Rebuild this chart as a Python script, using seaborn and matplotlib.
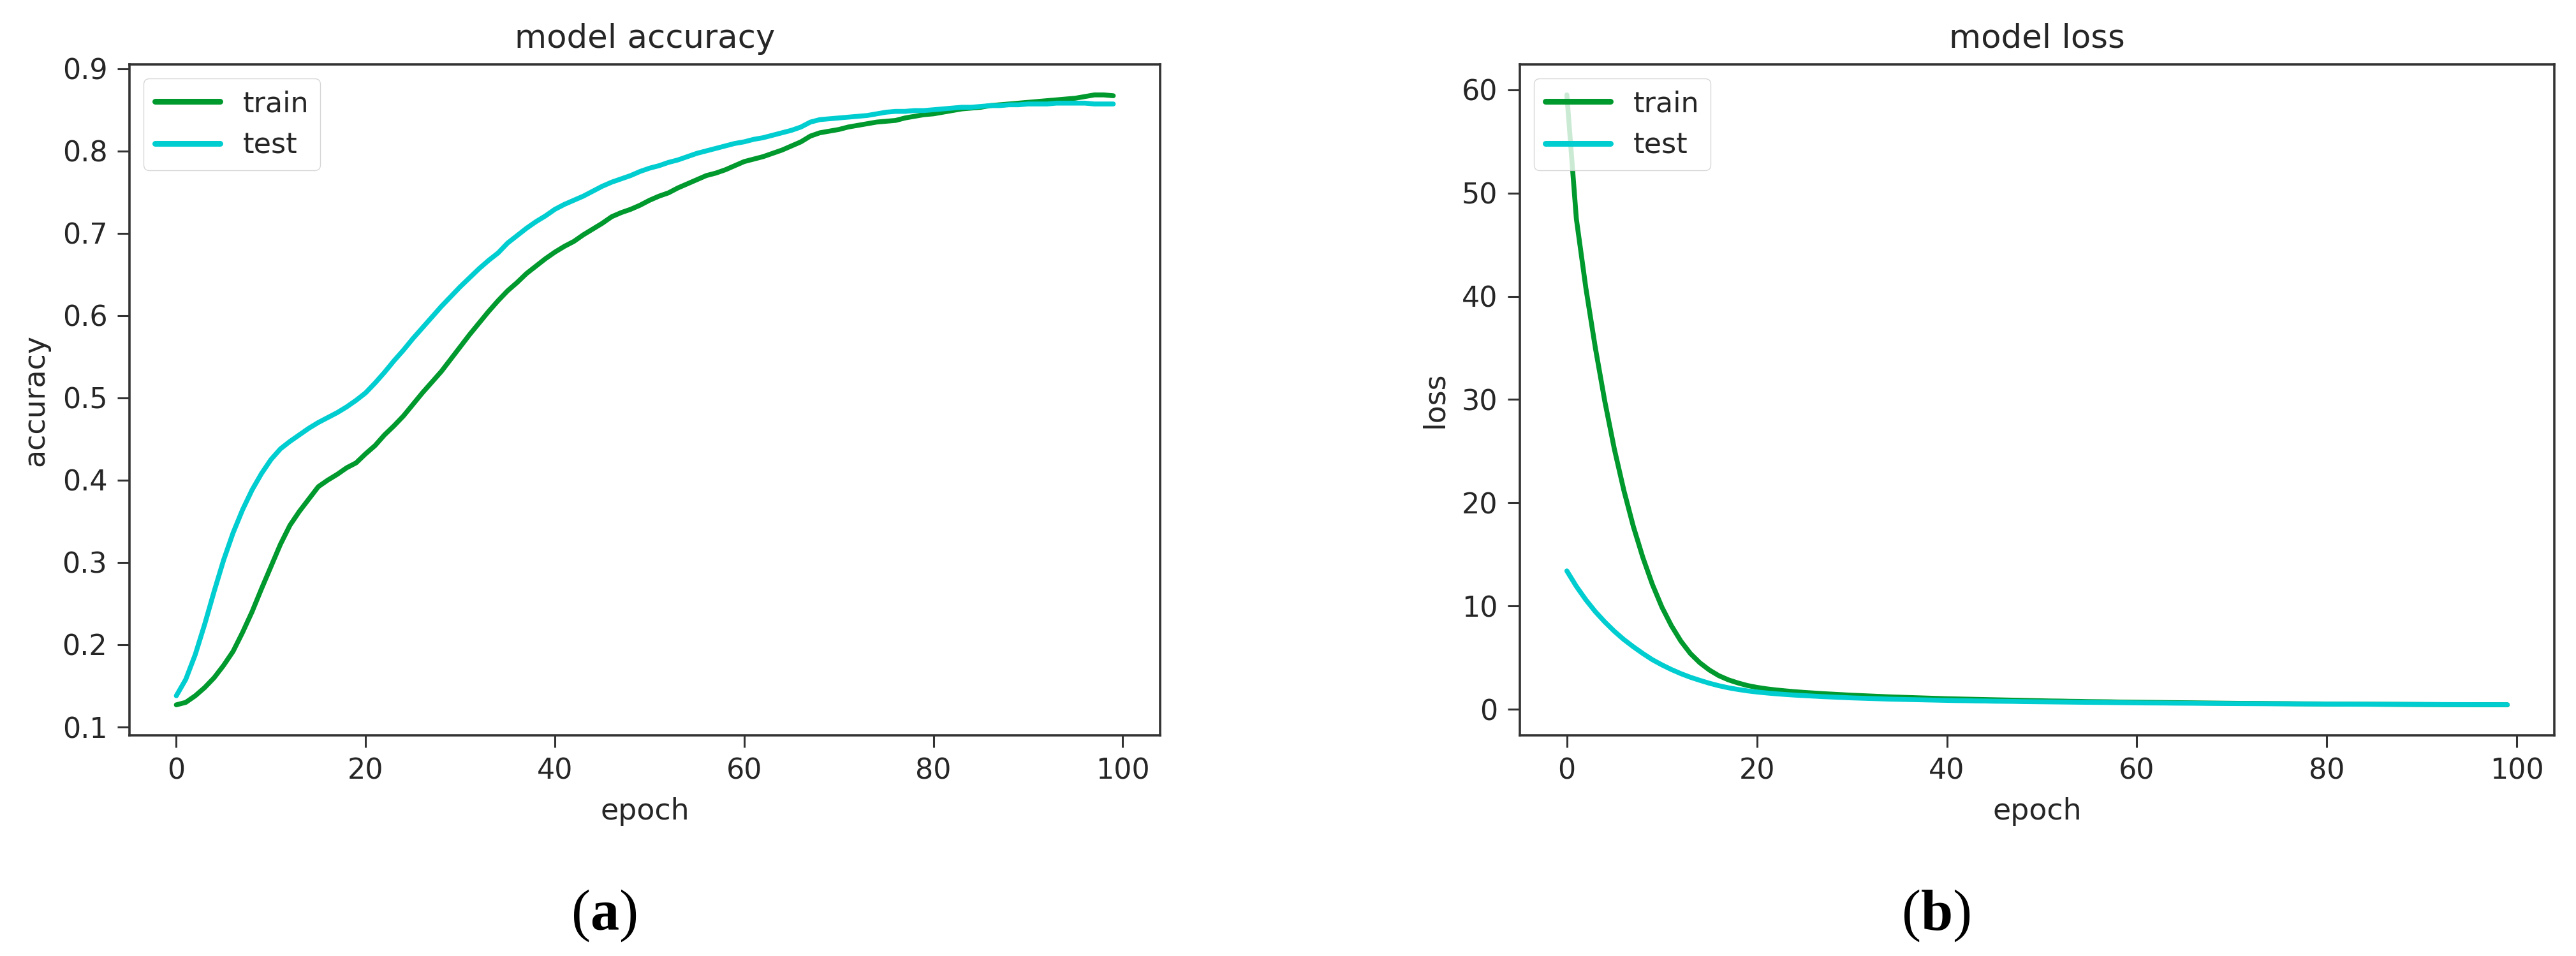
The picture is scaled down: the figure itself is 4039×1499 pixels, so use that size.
import numpy as np
import pandas as pd
import matplotlib
matplotlib.use("Agg")
import matplotlib.pyplot as plt
import seaborn as sns

# ---------------- data ----------------
epochs = list(range(100))

train_acc = [0.127, 0.130, 0.138, 0.148, 0.160, 0.175, 0.192, 0.215, 0.240, 0.268,
             0.295, 0.322, 0.345, 0.362, 0.377, 0.392, 0.400, 0.407, 0.415, 0.421,
             0.432, 0.442, 0.455, 0.466, 0.478, 0.492, 0.506, 0.519, 0.532, 0.547,
             0.562, 0.577, 0.591, 0.605, 0.618, 0.630, 0.640, 0.651, 0.660, 0.669,
             0.677, 0.684, 0.690, 0.698, 0.705, 0.712, 0.720, 0.725, 0.729, 0.734,
             0.740, 0.745, 0.749, 0.755, 0.760, 0.765, 0.770, 0.773, 0.777, 0.782,
             0.787, 0.790, 0.793, 0.797, 0.801, 0.806, 0.811, 0.818, 0.822, 0.824,
             0.826, 0.829, 0.831, 0.833, 0.835, 0.836, 0.837, 0.840, 0.842, 0.844,
             0.845, 0.847, 0.849, 0.851, 0.852, 0.853, 0.855, 0.856, 0.857, 0.858,
             0.859, 0.860, 0.861, 0.862, 0.863, 0.864, 0.866, 0.868, 0.868, 0.867]

test_acc = [0.138, 0.158, 0.188, 0.225, 0.265, 0.303, 0.336, 0.364, 0.388, 0.408,
            0.425, 0.438, 0.447, 0.455, 0.463, 0.470, 0.476, 0.482, 0.489, 0.497,
            0.506, 0.518, 0.531, 0.545, 0.558, 0.572, 0.585, 0.598, 0.611, 0.623,
            0.635, 0.646, 0.657, 0.667, 0.676, 0.688, 0.697, 0.706, 0.714, 0.721,
            0.729, 0.735, 0.740, 0.745, 0.751, 0.757, 0.762, 0.766, 0.770, 0.775,
            0.779, 0.782, 0.786, 0.789, 0.793, 0.797, 0.800, 0.803, 0.806, 0.809,
            0.811, 0.814, 0.816, 0.819, 0.822, 0.825, 0.829, 0.835, 0.838, 0.839,
            0.840, 0.841, 0.842, 0.843, 0.845, 0.847, 0.848, 0.848, 0.849, 0.849,
            0.850, 0.851, 0.852, 0.853, 0.853, 0.854, 0.855, 0.855, 0.856, 0.856,
            0.857, 0.857, 0.857, 0.858, 0.858, 0.858, 0.858, 0.857, 0.857, 0.857]

train_loss = [59.5, 47.5, 40.8, 35.0, 29.8, 25.2, 21.2, 17.7, 14.7, 12.1,
              9.9, 8.1, 6.6, 5.4, 4.5, 3.8, 3.25, 2.85, 2.55, 2.3,
              2.12, 1.98, 1.87, 1.78, 1.70, 1.63, 1.57, 1.51, 1.46, 1.41,
              1.36, 1.32, 1.28, 1.24, 1.20, 1.17, 1.14, 1.11, 1.08, 1.05,
              1.02, 1.00, 0.98, 0.96, 0.94, 0.92, 0.90, 0.88, 0.86, 0.84,
              0.82, 0.80, 0.79, 0.77, 0.76, 0.74, 0.73, 0.72, 0.70, 0.69,
              0.68, 0.67, 0.66, 0.65, 0.64, 0.63, 0.62, 0.61, 0.60, 0.59,
              0.58, 0.57, 0.565, 0.56, 0.55, 0.545, 0.54, 0.53, 0.525, 0.52,
              0.51, 0.505, 0.50, 0.495, 0.49, 0.485, 0.48, 0.475, 0.47, 0.465,
              0.46, 0.455, 0.45, 0.447, 0.444, 0.44, 0.437, 0.434, 0.43, 0.427]

test_loss = [13.4, 11.9, 10.6, 9.45, 8.45, 7.55, 6.75, 6.05, 5.4, 4.8,
             4.3, 3.85, 3.45, 3.1, 2.8, 2.52, 2.28, 2.08, 1.92, 1.78,
             1.67, 1.58, 1.50, 1.43, 1.37, 1.32, 1.27, 1.22, 1.18, 1.14,
             1.10, 1.07, 1.04, 1.01, 0.98, 0.96, 0.94, 0.92, 0.90, 0.88,
             0.86, 0.84, 0.83, 0.81, 0.80, 0.78, 0.77, 0.76, 0.74, 0.73,
             0.72, 0.71, 0.70, 0.69, 0.68, 0.67, 0.66, 0.65, 0.64, 0.63,
             0.62, 0.61, 0.605, 0.60, 0.59, 0.585, 0.58, 0.57, 0.565, 0.56,
             0.55, 0.545, 0.54, 0.535, 0.53, 0.525, 0.52, 0.515, 0.51, 0.505,
             0.50, 0.495, 0.49, 0.487, 0.484, 0.48, 0.477, 0.474, 0.47, 0.467,
             0.464, 0.461, 0.458, 0.455, 0.452, 0.45, 0.447, 0.445, 0.442, 0.44]

series_names = ["train", "test"]
panel_titles = ["model accuracy", "model loss"]
y_labels = ["accuracy", "loss"]
x_label = "epoch"
panel_tags = ["a", "b"]

# ---------------- style ----------------
sns.set_theme(style="ticks")
plt.rcParams["font.family"] = ["DejaVu Sans"]
plt.rcParams["mathtext.fontset"] = "custom"
plt.rcParams["mathtext.rm"] = "Liberation Serif"
plt.rcParams["mathtext.bf"] = "Liberation Serif:bold"

GREEN = "#00992e"
CYAN = "#00cdd0"
palette = {"train": GREEN, "test": CYAN}
INK = "#262626"
SPINE = "#333333"

TICK_FS = 32
LABEL_FS = 33
TITLE_FS = 37

fig = plt.figure(figsize=(40.39, 14.99), dpi=100)
ax1 = fig.add_axes([0.05026, 0.23082, 0.40010, 0.70180])
ax2 = fig.add_axes([0.59000, 0.23082, 0.40158, 0.70180])

def long_form(train, test, yname):
    return pd.DataFrame({
        "epoch": epochs + epochs,
        yname: list(train) + list(test),
        "series": ["train"] * len(train) + ["test"] * len(test),
    })

df_acc = long_form(train_acc, test_acc, y_labels[0])
df_loss = long_form(train_loss, test_loss, y_labels[1])

for ax, df, yname, title in [(ax1, df_acc, y_labels[0], panel_titles[0]),
                             (ax2, df_loss, y_labels[1], panel_titles[1])]:
    sns.lineplot(data=df, x="epoch", y=yname, hue="series",
                 hue_order=series_names, palette=palette,
                 linewidth=5.5, ax=ax, legend=True)
    ax.set_title(title, fontsize=TITLE_FS, color=INK, pad=19)
    ax.set_xlabel(x_label, fontsize=LABEL_FS, color=INK, labelpad=14)
    ax.set_ylabel(yname, fontsize=LABEL_FS, color=INK, labelpad=14)
    ax.set_xticks([0, 20, 40, 60, 80, 100])
    ax.tick_params(axis="both", labelsize=TICK_FS, colors=INK, length=14,
                   width=2.2, pad=11, direction="out", color=SPINE)
    for side in ["left", "right", "top", "bottom"]:
        ax.spines[side].set_visible(True)
        ax.spines[side].set_linewidth(2.6)
        ax.spines[side].set_color(SPINE)
    ax.set_facecolor("white")
    sns.move_legend(ax, "upper left", title=None, frameon=True,
                    fontsize=TICK_FS, handlelength=2.3, handletextpad=0.8,
                    borderaxespad=0.5, labelspacing=0.5, framealpha=0.8,
                    edgecolor="0.8", fancybox=True)
    leg = ax.get_legend()
    for line in leg.get_lines():
        line.set_linewidth(6.5)
    for t in leg.get_texts():
        t.set_color(INK)

fig.text(947 / 4039, 1 - 1435 / 1499, r"$(\mathbf{%s})$" % panel_tags[0],
         fontsize=65, ha="center", va="center", color="black")
fig.text(3035 / 4039, 1 - 1435 / 1499, r"$(\mathbf{%s})$" % panel_tags[1],
         fontsize=65, ha="center", va="center", color="black")

fig.savefig("out.png", dpi=100, facecolor="white")
